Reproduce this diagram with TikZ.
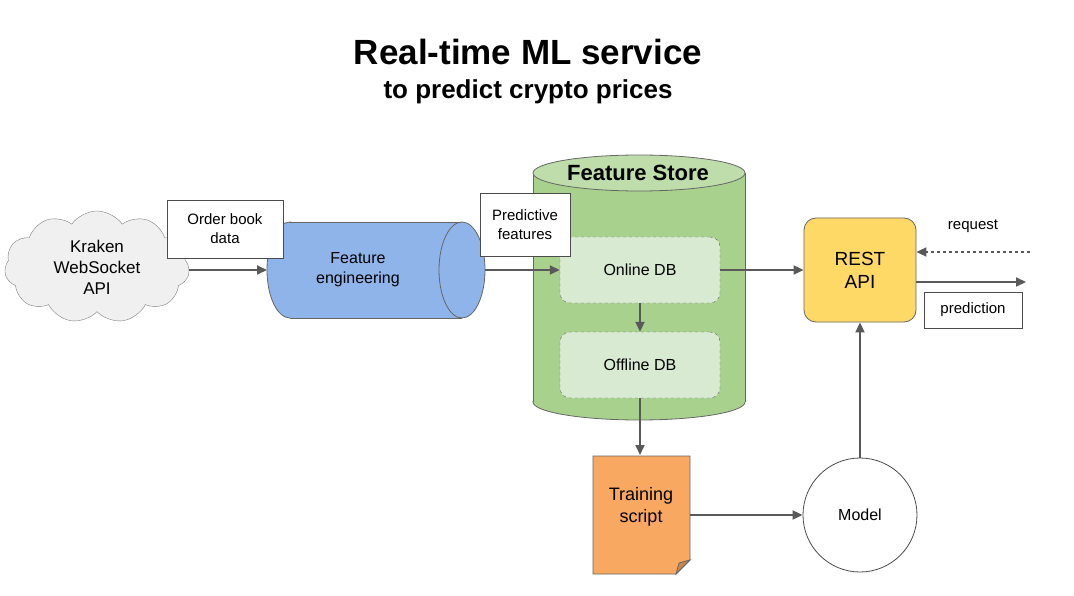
\documentclass[tikz,border=0pt]{standalone}
\usepackage{fontspec}
\setmainfont{Liberation Sans}
\usetikzlibrary{shapes.symbols,arrows.meta}
\definecolor{ln}{HTML}{595959}
\definecolor{blu}{HTML}{8FB4EA}
\definecolor{grn}{HTML}{A9D18E}
\definecolor{lgrn}{HTML}{D9EAD3}
\definecolor{org}{HTML}{F9A862}
\definecolor{yel}{HTML}{FFD966}
\tikzset{
 arr/.style={draw=ln,line width=1.8pt,-{Triangle[length=10pt,width=9pt]}},
 lbl/.style={draw=black!70,fill=white,align=center,font=\fontsize{15}{19}\selectfont,inner sep=4pt},
 db/.style={draw=black!60,dashed,fill=lgrn,rounded corners=10pt,minimum width=160pt,minimum height=66pt,font=\fontsize{16}{19}\selectfont},
 txt/.style={align=center,font=\fontsize{17}{21}\selectfont},
 shp/.style={draw=black!60,line width=0.8pt}
}
\begin{document}
\begin{tikzpicture}[x=1pt,y=-1pt]
\useasboundingbox (0,0) rectangle (1074,596);
\node[font=\fontsize{35}{40}\selectfont\bfseries] (t1) at (528,52) {Real-time ML service};
\node[font=\fontsize{26}{30}\selectfont\bfseries] (t2) at (528,92) {to predict crypto prices};
% cloud
\node[cloud,cloud puffs=11,cloud puff arc=110,aspect=1.6,draw=black!50,fill=black!6,minimum width=185pt,minimum height=112pt,txt] (cl) at (97,267) {Kraken\\WebSocket\\API};
% feature engineering cylinder
\filldraw[shp,fill=blu] (290,270) ellipse[x radius=23,y radius=48];
\fill[blu] (290,222) rectangle (462,318);
\draw[shp] (290,222) -- (462,222) (290,318) -- (462,318);
\filldraw[shp,fill=blu] (462,270) ellipse[x radius=23,y radius=48];
\node[txt,font=\fontsize{16}{20}\selectfont] (fe) at (358,270) {Feature\\engineering};
\coordinate (fel) at (267,270);
\coordinate (fer) at (485,270);
% feature store
\filldraw[shp,fill=grn] (639,402) ellipse[x radius=106,y radius=18];
\fill[grn] (533,173) rectangle (745,402);
\draw[shp] (533,173) -- (533,402) (745,173) -- (745,402);
\filldraw[shp,fill=grn!75!white] (639,173) ellipse[x radius=106,y radius=18];
\node[font=\fontsize{22}{26}\selectfont\bfseries] (fst) at (638,173) {Feature Store};
\node[db] (on) at (640,270) {Online DB};
\node[db] (off) at (640,365) {Offline DB};
% labels
\node[lbl,minimum width=116pt,minimum height=58pt] (ob) at (225,229) {Order book\\data};
\node[lbl,minimum width=90pt,minimum height=63pt] (pf) at (525,225) {Predictive\\features};
% training script
\draw[shp,fill=org] (593,456) -- (690,456) -- (690,560) -- (676,574) -- (593,574) -- cycle;
\draw[shp,fill=org!80!black] (690,560) -- (679,563) -- (676,574) -- cycle;
\node[txt,font=\fontsize{18}{22}\selectfont] (ts) at (641,507) {Training\\script};
\coordinate (tsr) at (690,515);
\coordinate (tst) at (640,455);
% model
\node[circle,draw=black!70,line width=0.8pt,fill=white,minimum size=114pt,txt,font=\fontsize{16}{20}\selectfont] (m) at (860,515) {Model};
% REST API
\node[shp,fill=yel,rounded corners=12pt,minimum width=112pt,minimum height=104pt,txt,font=\fontsize{19}{23}\selectfont] (api) at (860,270) {REST\\API};
\node[lbl,minimum width=98pt,minimum height=36pt] (pr) at (973,310) {prediction};
\node[font=\fontsize{15}{19}\selectfont] (rq) at (973,226) {request};
\coordinate (rqs) at (1030,252);
\coordinate (pre) at (1026,282);
% arrows
\draw[arr] (cl.east |- 0,270) -- (fel);
\draw[arr] (fer) -- (on.west);
\draw[arr] (on.south) -- (off.north);
\draw[arr] (off.south) -- (tst);
\draw[arr] (tsr) -- (m.west);
\draw[arr] (m.north) -- (api.south);
\draw[arr] (on.east) -- (api.west);
\draw[arr,dashed] (rqs) -- (api.east |- rqs);
\draw[arr] (api.east |- pre) -- (pre);
\end{tikzpicture}
\end{document}
